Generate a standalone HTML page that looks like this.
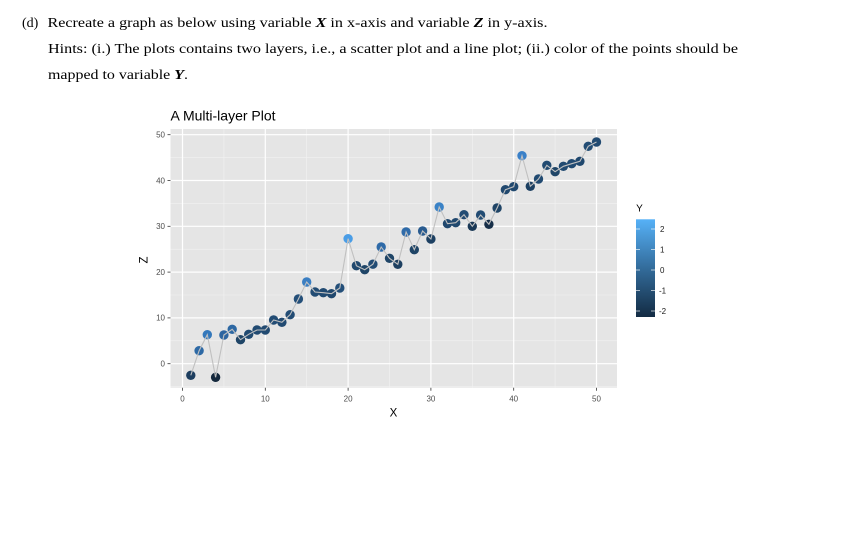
<!DOCTYPE html>
<html><head><meta charset="utf-8"><style>
html,body{margin:0;padding:0;background:#fff;}
svg{display:block;}
</style></head><body>
<svg width="864" height="540" viewBox="0 0 864 540" xmlns="http://www.w3.org/2000/svg">
<defs>
<linearGradient id="cb" x1="0" y1="0" x2="0" y2="1">
<stop offset="0" stop-color="#56B1F7"/>
<stop offset="0.5" stop-color="#336C9B"/>
<stop offset="1" stop-color="#132B43"/>
</linearGradient>
</defs>
<rect width="864" height="540" fill="#fff"/>
<!-- header text -->
<g font-family="Liberation Serif, serif" font-size="14" fill="#000">
<text x="22" y="27">(d)</text>
<text x="47.5" y="27" textLength="500" lengthAdjust="spacingAndGlyphs">Recreate a graph as below using variable <tspan font-style="italic" font-weight="bold">X</tspan> in x-axis and variable <tspan font-style="italic" font-weight="bold">Z</tspan> in y-axis.</text>
<text x="48" y="53" textLength="690" lengthAdjust="spacingAndGlyphs">Hints: (i.) The plots contains two layers, i.e., a scatter plot and a line plot; (ii.) color of the points should be</text>
<text x="48" y="79" textLength="140" lengthAdjust="spacingAndGlyphs">mapped to variable <tspan font-style="italic" font-weight="bold">Y</tspan>.</text>
</g>
<!-- title -->
<text x="170.5" y="120.7" font-family="Liberation Sans, sans-serif" font-size="14" fill="#000">A Multi-layer Plot</text>
<!-- panel -->
<rect x="170.5" y="129" width="446.5" height="258.7" fill="#E5E5E5"/>
<g stroke="#F2F2F2" stroke-width="0.6">
<line x1="170.5" x2="617" y1="386.6" y2="386.6"/>
<line x1="170.5" x2="617" y1="340.8" y2="340.8"/>
<line x1="170.5" x2="617" y1="295" y2="295"/>
<line x1="170.5" x2="617" y1="249.2" y2="249.2"/>
<line x1="170.5" x2="617" y1="203.4" y2="203.4"/>
<line x1="170.5" x2="617" y1="157.6" y2="157.6"/>
<line y1="129" y2="387.7" x1="223.9" x2="223.9"/>
<line y1="129" y2="387.7" x1="306.7" x2="306.7"/>
<line y1="129" y2="387.7" x1="389.5" x2="389.5"/>
<line y1="129" y2="387.7" x1="472.3" x2="472.3"/>
<line y1="129" y2="387.7" x1="555.1" x2="555.1"/>
</g>
<g stroke="#FFFFFF" stroke-width="1.2">
<line x1="170.5" x2="617" y1="363.7" y2="363.7"/>
<line x1="170.5" x2="617" y1="317.9" y2="317.9"/>
<line x1="170.5" x2="617" y1="272.1" y2="272.1"/>
<line x1="170.5" x2="617" y1="226.3" y2="226.3"/>
<line x1="170.5" x2="617" y1="180.5" y2="180.5"/>
<line x1="170.5" x2="617" y1="134.7" y2="134.7"/>
<line y1="129" y2="387.7" x1="182.5" x2="182.5"/>
<line y1="129" y2="387.7" x1="265.3" x2="265.3"/>
<line y1="129" y2="387.7" x1="348.1" x2="348.1"/>
<line y1="129" y2="387.7" x1="430.9" x2="430.9"/>
<line y1="129" y2="387.7" x1="513.7" x2="513.7"/>
<line y1="129" y2="387.7" x1="596.5" x2="596.5"/>
</g>
<!-- axis ticks -->
<g stroke="#333" stroke-width="0.8">
<line x1="167.5" x2="170.5" y1="363.7" y2="363.7"/>
<line x1="167.5" x2="170.5" y1="317.9" y2="317.9"/>
<line x1="167.5" x2="170.5" y1="272.1" y2="272.1"/>
<line x1="167.5" x2="170.5" y1="226.3" y2="226.3"/>
<line x1="167.5" x2="170.5" y1="180.5" y2="180.5"/>
<line x1="167.5" x2="170.5" y1="134.7" y2="134.7"/>
<line y1="387.7" y2="390.7" x1="182.5" x2="182.5"/>
<line y1="387.7" y2="390.7" x1="265.3" x2="265.3"/>
<line y1="387.7" y2="390.7" x1="348.1" x2="348.1"/>
<line y1="387.7" y2="390.7" x1="430.9" x2="430.9"/>
<line y1="387.7" y2="390.7" x1="513.7" x2="513.7"/>
<line y1="387.7" y2="390.7" x1="596.5" x2="596.5"/>
</g>
<g font-family="Liberation Sans, sans-serif" font-size="8" fill="#4D4D4D" text-anchor="end">
<text x="165" y="366.5">0</text>
<text x="165" y="320.7">10</text>
<text x="165" y="274.9">20</text>
<text x="165" y="229.1">30</text>
<text x="165" y="183.3">40</text>
<text x="165" y="137.5">50</text>
</g>
<g font-family="Liberation Sans, sans-serif" font-size="8" fill="#4D4D4D" text-anchor="middle">
<text x="182.5" y="401.5">0</text>
<text x="265.3" y="401.5">10</text>
<text x="348.1" y="401.5">20</text>
<text x="430.9" y="401.5">30</text>
<text x="513.7" y="401.5">40</text>
<text x="596.5" y="401.5">50</text>
</g>
<text x="393.5" y="416.5" font-family="Liberation Sans, sans-serif" font-size="11.5" fill="#000" text-anchor="middle">X</text>
<text x="0" y="0" transform="translate(147.5,260) rotate(-90)" font-family="Liberation Sans, sans-serif" font-size="11.5" fill="#000" text-anchor="middle">Z</text>
<!-- points -->
<g>
<circle cx="190.8" cy="375.3" r="4.7" fill="#1D3E5F"/>
<circle cx="199.1" cy="350.7" r="4.7" fill="#2D69A5"/>
<circle cx="207.3" cy="334.7" r="4.7" fill="#3478BB"/>
<circle cx="215.6" cy="377.3" r="4.7" fill="#14283C"/>
<circle cx="223.9" cy="335.0" r="4.7" fill="#2D65A0"/>
<circle cx="232.2" cy="329.3" r="4.7" fill="#2D68A3"/>
<circle cx="240.5" cy="339.7" r="4.7" fill="#1F4567"/>
<circle cx="248.7" cy="334.3" r="4.7" fill="#214A71"/>
<circle cx="257.0" cy="330.0" r="4.7" fill="#214A71"/>
<circle cx="265.3" cy="330.0" r="4.7" fill="#214A71"/>
<circle cx="273.6" cy="320.0" r="4.7" fill="#224C74"/>
<circle cx="281.9" cy="322.3" r="4.7" fill="#214A71"/>
<circle cx="290.1" cy="314.7" r="4.7" fill="#224C74"/>
<circle cx="298.4" cy="299.0" r="4.7" fill="#244F79"/>
<circle cx="306.7" cy="282.0" r="4.7" fill="#3A7EC2"/>
<circle cx="315.0" cy="292.0" r="4.7" fill="#224C74"/>
<circle cx="323.3" cy="292.7" r="4.7" fill="#214A71"/>
<circle cx="331.5" cy="293.7" r="4.7" fill="#20486E"/>
<circle cx="339.8" cy="288.0" r="4.7" fill="#244F79"/>
<circle cx="348.1" cy="238.7" r="4.7" fill="#4A9DE6"/>
<circle cx="356.4" cy="265.7" r="4.7" fill="#20486E"/>
<circle cx="364.7" cy="269.7" r="4.7" fill="#1F4567"/>
<circle cx="372.9" cy="264.2" r="4.7" fill="#224C74"/>
<circle cx="381.2" cy="247.0" r="4.7" fill="#2E6AA8"/>
<circle cx="389.5" cy="258.3" r="4.7" fill="#1F4567"/>
<circle cx="397.8" cy="264.3" r="4.7" fill="#1D3F60"/>
<circle cx="406.1" cy="232.0" r="4.7" fill="#2F6BA9"/>
<circle cx="414.3" cy="249.7" r="4.7" fill="#1E4466"/>
<circle cx="422.6" cy="231.0" r="4.7" fill="#295B8F"/>
<circle cx="430.9" cy="239.0" r="4.7" fill="#1D4062"/>
<circle cx="439.2" cy="207.0" r="4.7" fill="#3A82C6"/>
<circle cx="447.5" cy="223.7" r="4.7" fill="#20486E"/>
<circle cx="455.7" cy="222.7" r="4.7" fill="#20486E"/>
<circle cx="464.0" cy="214.7" r="4.7" fill="#224C74"/>
<circle cx="472.3" cy="226.3" r="4.7" fill="#1A3856"/>
<circle cx="480.6" cy="215.0" r="4.7" fill="#224C74"/>
<circle cx="488.9" cy="224.3" r="4.7" fill="#172F49"/>
<circle cx="497.1" cy="208.0" r="4.7" fill="#1F4466"/>
<circle cx="505.4" cy="189.7" r="4.7" fill="#20486E"/>
<circle cx="513.7" cy="186.7" r="4.7" fill="#20486E"/>
<circle cx="522.0" cy="155.7" r="4.7" fill="#3A80C8"/>
<circle cx="530.3" cy="186.3" r="4.7" fill="#1D4062"/>
<circle cx="538.5" cy="179.0" r="4.7" fill="#214A71"/>
<circle cx="546.8" cy="165.3" r="4.7" fill="#214A71"/>
<circle cx="555.1" cy="171.7" r="4.7" fill="#1F4567"/>
<circle cx="563.4" cy="166.3" r="4.7" fill="#214A71"/>
<circle cx="571.7" cy="163.7" r="4.7" fill="#214A71"/>
<circle cx="579.9" cy="161.3" r="4.7" fill="#20486E"/>
<circle cx="588.2" cy="146.3" r="4.7" fill="#224C74"/>
<circle cx="596.5" cy="142.0" r="4.7" fill="#214A71"/>
</g>
<!-- line layer on top -->
<polyline fill="none" stroke="#C0C0C0" stroke-width="1.1" points="190.8,375.3 199.1,350.7 207.3,334.7 215.6,377.3 223.9,335.0 232.2,329.3 240.5,339.7 248.7,334.3 257.0,330.0 265.3,330.0 273.6,320.0 281.9,322.3 290.1,314.7 298.4,299.0 306.7,282.0 315.0,292.0 323.3,292.7 331.5,293.7 339.8,288.0 348.1,238.7 356.4,265.7 364.7,269.7 372.9,264.2 381.2,247.0 389.5,258.3 397.8,264.3 406.1,232.0 414.3,249.7 422.6,231.0 430.9,239.0 439.2,207.0 447.5,223.7 455.7,222.7 464.0,214.7 472.3,226.3 480.6,215.0 488.9,224.3 497.1,208.0 505.4,189.7 513.7,186.7 522.0,155.7 530.3,186.3 538.5,179.0 546.8,165.3 555.1,171.7 563.4,166.3 571.7,163.7 579.9,161.3 588.2,146.3 596.5,142.0"/>
<!-- legend -->
<text x="639.5" y="211.5" font-family="Liberation Sans, sans-serif" font-size="10" fill="#000" text-anchor="middle">Y</text>
<rect x="636" y="219.3" width="19" height="97.7" fill="url(#cb)"/>
<g stroke="#FFFFFF" stroke-width="0.8" opacity="0.8">
<line x1="636" x2="640" y1="229" y2="229"/><line x1="651" x2="655" y1="229" y2="229"/>
<line x1="636" x2="640" y1="249.5" y2="249.5"/><line x1="651" x2="655" y1="249.5" y2="249.5"/>
<line x1="636" x2="640" y1="270" y2="270"/><line x1="651" x2="655" y1="270" y2="270"/>
<line x1="636" x2="640" y1="290.5" y2="290.5"/><line x1="651" x2="655" y1="290.5" y2="290.5"/>
<line x1="636" x2="640" y1="311" y2="311"/><line x1="651" x2="655" y1="311" y2="311"/>
</g>
<g font-family="Liberation Sans, sans-serif" font-size="8" fill="#1A1A1A">
<text x="660" y="231.8">2</text>
<text x="660" y="252.3">1</text>
<text x="660" y="272.8">0</text>
<text x="659" y="293.3">-1</text>
<text x="659" y="313.8">-2</text>
</g>
</svg>
</body></html>
